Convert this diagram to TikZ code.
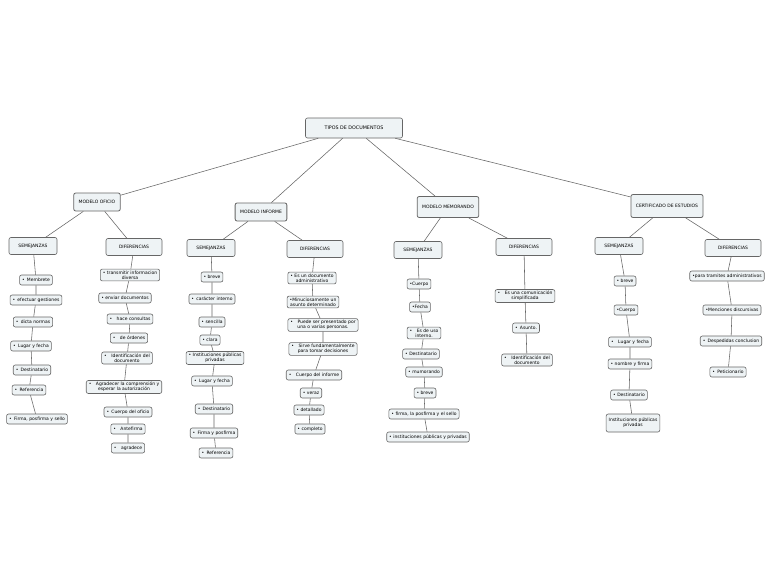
\documentclass[tikz,border=0pt]{standalone}
\usepackage{fontspec}
\setmainfont{DejaVu Sans}
\usepackage{xcolor}
\usepackage{tikz}
\usetikzlibrary{positioning,calc}

\definecolor{cajafondo}{HTML}{EEF3F5}
\definecolor{cajaborde}{HTML}{666666}
\definecolor{linea}{HTML}{666666}

\begin{document}
\begin{tikzpicture}[x=1pt,y=-1pt,
    caja/.style={draw=cajaborde, fill=cajafondo, rounded corners=2pt, line width=0.6pt,
                 align=center, inner xsep=2.5pt, inner ysep=1.6pt, font=\fontsize{4.5}{5.2}\selectfont},
    raiz/.style={caja, minimum width=97pt, minimum height=20pt, font=\fontsize{4.8}{5.5}\selectfont},
    modelo/.style={caja, line width=0.8pt, minimum height=18pt, inner xsep=5pt},
    rama/.style={caja, minimum width=48pt, minimum height=17pt},
    item/.style={caja, minimum height=10pt},
    conn/.style={draw=linea, line width=0.55pt}]
  \fill[white] (0,0) rectangle (768,578);
  \useasboundingbox (0,0) rectangle (768,578);

  % Root and models
  \node[raiz]   (raiz) at (354,128) {TIPOS DE DOCUMENTOS};
  \node[modelo] (ofi)  at (97,202)  {MODELO OFICIO};
  \node[modelo] (inf)  at (261,212) {MODELO INFORME};
  \node[modelo, minimum height=21pt] (mem)  at (448,207) {MODELO MEMORANDO};
  \node[modelo, minimum height=23pt] (cer)  at (667,206) {CERTIFICADO DE ESTUDIOS};

  % Semejanzas / diferencias
  \node[rama] (ofiS) at (33,246)  {SEMEJANZAS};
  \node[rama, minimum width=56pt] (ofiD) at (134,247) {DIFERENCIAS};
  \node[rama] (infS) at (211,248) {SEMEJANZAS};
  \node[rama, minimum width=56pt] (infD) at (315,249) {DIFERENCIAS};
  \node[rama] (memS) at (418,250) {SEMEJANZAS};
  \node[rama, minimum width=56pt] (memD) at (524,247) {DIFERENCIAS};
  \node[rama] (cerS) at (619,246) {SEMEJANZAS};
  \node[rama, minimum width=56pt] (cerD) at (733,248) {DIFERENCIAS};

  % Modelo oficio: semejanzas
  \node[item] (ofiS1) at (36,280) {•\enspace Membrete};
  \node[item] (ofiS2) at (36,300) {•\enspace efectuar gestiones};
  \node[item] (ofiS3) at (33,322) {•\enspace dicta normas};
  \node[item] (ofiS4) at (31,346) {•\enspace Lugar y fecha};
  \node[item] (ofiS5) at (32,370) {•\enspace Destinatario};
  \node[item] (ofiS6) at (29,390) {•\enspace Referencia};
  \node[item] (ofiS7) at (37,419) {•\enspace Firma, posfirma y sello};

  % Modelo oficio: diferencias
  \node[item] (ofiD1) at (130,275) {• transmitir informacion\\diversa};
  \node[item] (ofiD2) at (125,298) {• enviar documentos};
  \node[item] (ofiD3) at (130,319) {•\quad hace consultas};
  \node[item] (ofiD4) at (129,338) {•\quad de órdenes};
  \node[item] (ofiD5) at (127,358) {•\quad Identificación del\\documento};
  \node[item] (ofiD6) at (124,387) {•\quad Agradecer la comprensión y\\esperar la autorización};
  \node[item] (ofiD7) at (128,412) {•\enspace Cuerpo del oficio};
  \node[item] (ofiD8) at (128,429) {•\quad Antefirma};
  \node[item] (ofiD9) at (128,448) {•\quad agradece};

  % Modelo informe: semejanzas
  \node[item] (infS1) at (212,277) {• breve};
  \node[item] (infS2) at (212,299) {•\enspace carácter interno};
  \node[item] (infS3) at (212,322) {• sencilla};
  \node[item] (infS4) at (210,340) {• clara};
  \node[item] (infS5) at (215,358) {• Instituciones públicas\\privadas};
  \node[item] (infS6) at (212,381) {•\enspace Lugar y fecha};
  \node[item] (infS7) at (214,409) {•\enspace Destinatario};
  \node[item] (infS8) at (214,433) {•\enspace Firma y posfirma};
  \node[item] (infS9) at (216,453) {•\enspace Referencia};

  % Modelo informe: diferencias
  \node[item] (infD1) at (312,278) {• Es un documento\\administrativo};
  \node[item] (infD2) at (313,302) {•Minuciosamente un\\asunto determinado};
  \node[item] (infD3) at (323,325) {•\quad Puede ser presentado por\\una o varias personas.};
  \node[item] (infD4) at (323,349) {•\quad Sirve fundamentalmente\\para tomar decisiones};
  \node[item] (infD5) at (314,375) {•\quad Cuerpo del informe};
  \node[item] (infD6) at (311,393) {• veraz};
  \node[item] (infD7) at (309,410) {• detallado};
  \node[item] (infD8) at (310,429) {• completo};

  % Modelo memorando: semejanzas
  \node[item] (memS1) at (419,284) {•Cuerpo};
  \node[item] (memS2) at (420,307) {•Fecha};
  \node[item] (memS3) at (424,333) {•\quad Es de uso\\interno.};
  \node[item] (memS4) at (421,354) {• Destinatario};
  \node[item] (memS5) at (424,372) {• mumorando};
  \node[item] (memS6) at (425,393) {• breve};
  \node[item] (memS7) at (424,414) {• firma, la posfirma y el sello};
  \node[item] (memS8) at (428,437) {• instituciones públicas y privadas};

  % Modelo memorando: diferencias
  \node[item] (memD1) at (525,296) {•\quad Es una comunicación\\simplificada};
  \node[item] (memD2) at (526,328) {•\enspace Asunto.};
  \node[item] (memD3) at (527,360) {•\quad Identificación del\\documento};

  % Certificado de estudios: semejanzas
  \node[item] (cerS1) at (625,281) {• breve};
  \node[item] (cerS2) at (626,310) {•Cuerpo};
  \node[item] (cerS3) at (630,342) {•\quad Lugar y fecha};
  \node[item] (cerS4) at (630,364) {• nombre y firma};
  \node[item] (cerS5) at (629,395) {• Destinatario};
  \node[item, minimum height=18pt] (cerS6) at (633,423) {Instituciones públicas\\privadas};

  % Certificado de estudios: diferencias
  \node[item] (cerD1) at (727,276) {•para tramites administrativos};
  \node[item] (cerD2) at (732,310) {•Menciones discursivas};
  \node[item] (cerD3) at (731,341) {•\enspace Despedidas conclusion};
  \node[item] (cerD4) at (728,372) {•\enspace Peticionario};

  % Connectors
  \foreach \a/\b in {raiz/ofi,raiz/inf,raiz/mem,raiz/cer,
                     ofi/ofiS,ofi/ofiD,inf/infS,inf/infD,
                     mem/memS,mem/memD,cer/cerS,cer/cerD}
    \draw[conn] (\a) -- (\b);
  \draw[conn] (ofiS) -- (ofiS1) -- (ofiS2) -- (ofiS3) -- (ofiS4) -- (ofiS5) -- (ofiS6) -- (ofiS7);
  \draw[conn] (ofiD) -- (ofiD1) -- (ofiD2) -- (ofiD3) -- (ofiD4) -- (ofiD5) -- (ofiD6) -- (ofiD7) -- (ofiD8) -- (ofiD9);
  \draw[conn] (infS) -- (infS1) -- (infS2) -- (infS3) -- (infS4) -- (infS5) -- (infS6) -- (infS7) -- (infS8) -- (infS9);
  \draw[conn] (infD) -- (infD1) -- (infD2) -- (infD3) -- (infD4) -- (infD5) -- (infD6) -- (infD7) -- (infD8);
  \draw[conn] (memS) -- (memS1) -- (memS2) -- (memS3) -- (memS4) -- (memS5) -- (memS6) -- (memS7) -- (memS8);
  \draw[conn] (memD) -- (memD1) -- (memD2) -- (memD3);
  \draw[conn] (cerS) -- (cerS1) -- (cerS2) -- (cerS3) -- (cerS4) -- (cerS5) -- (cerS6);
  \draw[conn] (cerD) -- (cerD1) -- (cerD2) -- (cerD3) -- (cerD4);
\end{tikzpicture}
\end{document}
